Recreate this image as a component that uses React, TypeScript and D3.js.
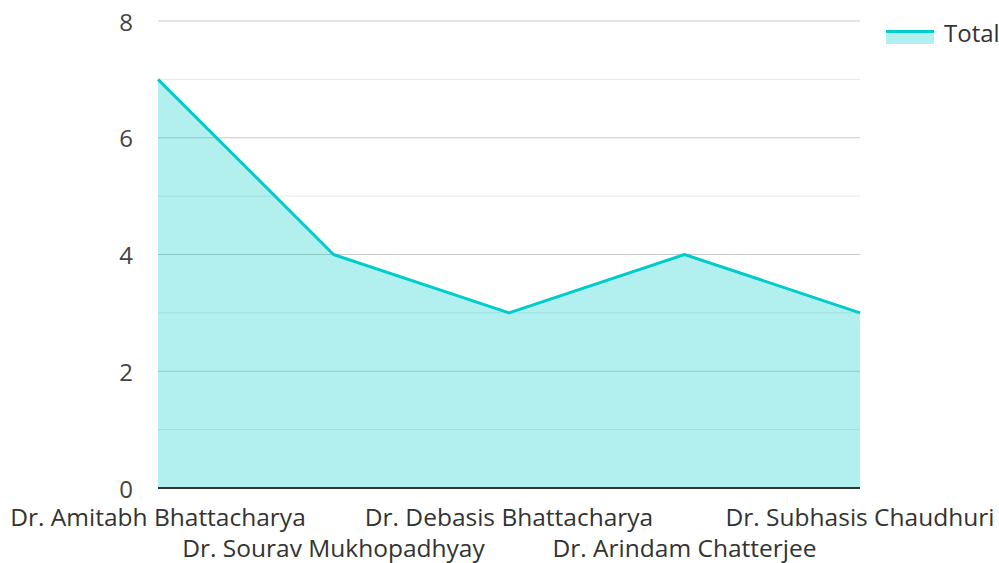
import * as React from 'react';
import * as d3 from 'd3';

const doctors = [
  'Dr. Amitabh Bhattacharya',
  'Dr. Sourav Mukhopadhyay',
  'Dr. Debasis Bhattacharya',
  'Dr. Arindam Chatterjee',
  'Dr. Subhasis Chaudhuri',
];
const totals = [7, 4, 3, 4, 3];
const majorTicks = [0, 2, 4, 6, 8];
const minorTicks = [1, 3, 5, 7];

const W = 999;
const H = 563;
const margin = { top: 21, right: 139, bottom: 75, left: 158 };
const teal = 'rgb(0,204,204)';
const font = '"Open Sans", "Noto Sans", sans-serif';

export default function App() {
  const innerW = W - margin.left - margin.right;
  const innerH = H - margin.top - margin.bottom;

  const x = d3
    .scalePoint<number>()
    .domain(doctors.map((_, i) => i))
    .range([0, innerW]);
  const y = d3.scaleLinear().domain([0, 8]).range([innerH, 0]);

  const area = d3
    .area<number>()
    .x((d, i) => x(i)!)
    .y0(y(0))
    .y1(d => y(d));
  const line = d3
    .line<number>()
    .x((d, i) => x(i)!)
    .y(d => y(d));

  return (
    <svg
      width={W}
      height={H}
      style={{ position: 'absolute', left: 0, top: 0, fontFamily: font }}
    >
      <g transform={`translate(${margin.left},${margin.top})`}>
        {minorTicks.map(t => (
          <line key={'m' + t} x1={0} x2={innerW} y1={y(t)} y2={y(t)} stroke="#e6e6e6" strokeWidth={1} />
        ))}
        {majorTicks.map(t => (
          <line key={'M' + t} x1={0} x2={innerW} y1={y(t)} y2={y(t)} stroke="#c8c8c8" strokeWidth={1} />
        ))}
        <path d={area(totals)!} fill={teal} fillOpacity={0.3} />
        <path d={line(totals)!} fill="none" stroke={teal} strokeWidth={3} strokeLinejoin="round" />
        <line x1={0} x2={innerW} y1={y(0)} y2={y(0)} stroke="#333" strokeWidth={2} />
        {majorTicks.map(t => (
          <text
            key={'t' + t}
            x={-25}
            y={y(t)}
            textAnchor="end"
            dominantBaseline="central"
            fontSize={24}
            fill="#444"
          >
            {t}
          </text>
        ))}
        {doctors.map((d, i) => (
          <text
            key={d}
            x={x(i)}
            y={innerH + (i % 2 === 0 ? 28 : 59)}
            textAnchor="middle"
            dominantBaseline="central"
            fontSize={24.5}
            fill="#333"
          >
            {d}
          </text>
        ))}
      </g>
      <g transform="translate(886,30)">
        <rect x={0} y={0} width={48} height={14} fill={teal} fillOpacity={0.3} />
        <line x1={0} x2={48} y1={1.5} y2={1.5} stroke={teal} strokeWidth={3} />
        <text x={58} y={2} dominantBaseline="central" fontSize={24} fill="#333">
          Total
        </text>
      </g>
    </svg>
  );
}
